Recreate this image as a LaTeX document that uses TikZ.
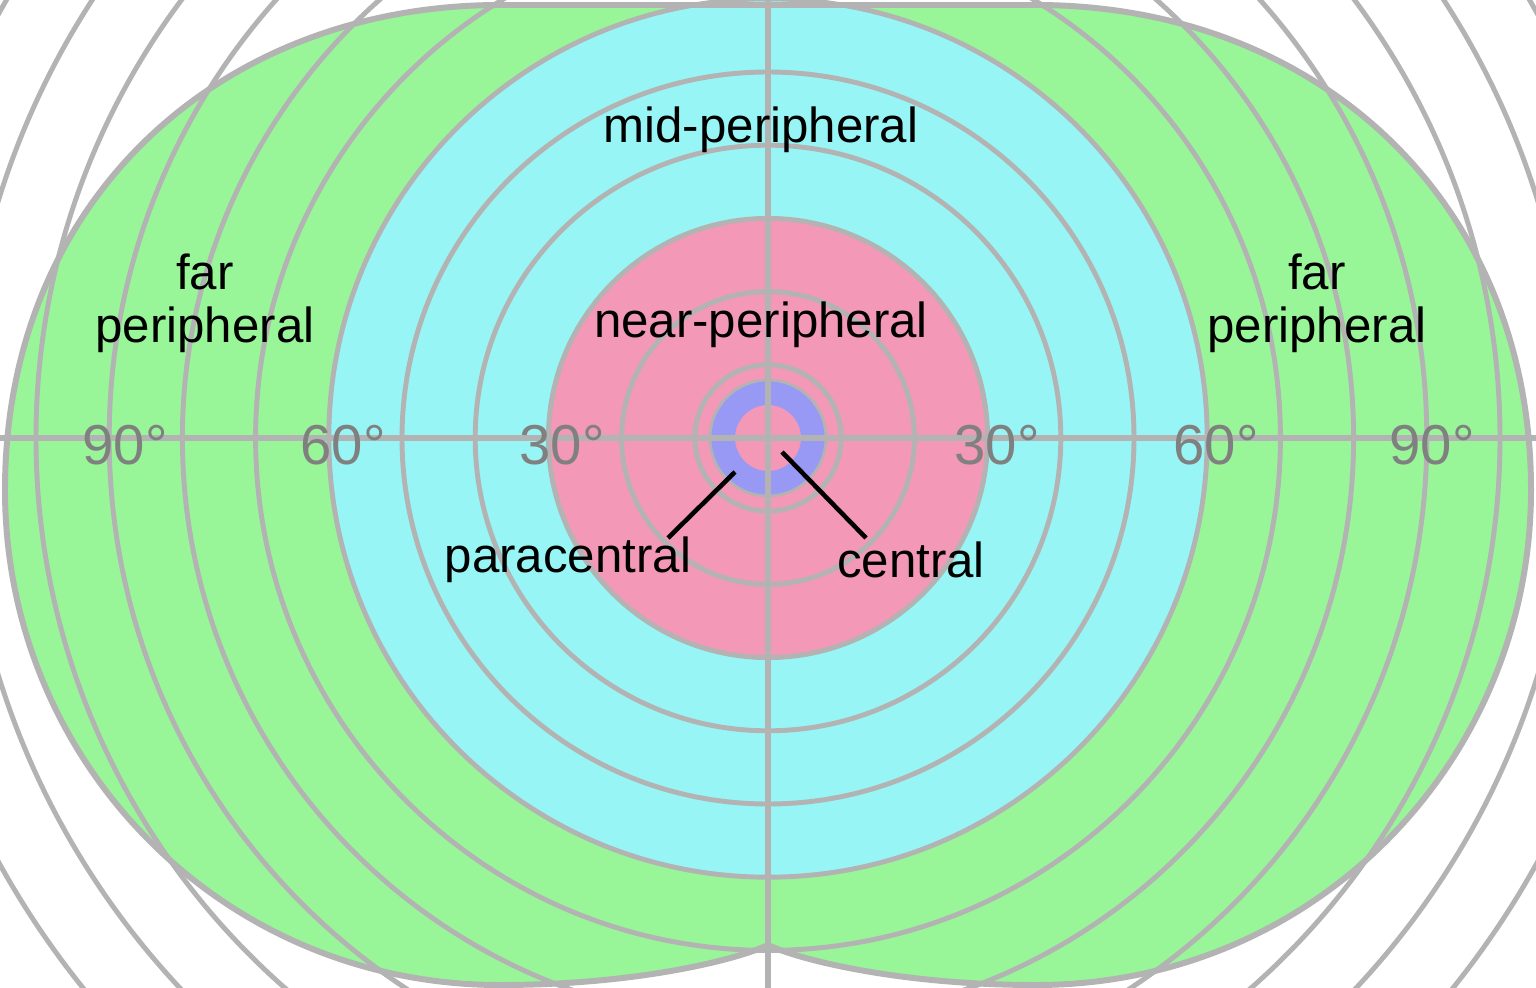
\documentclass[tikz,border=0pt]{standalone}
\usepackage{fontspec}
\setmainfont{Liberation Sans}
\definecolor{gr}{HTML}{98F698}
\definecolor{cy}{HTML}{98F5F5}
\definecolor{pk}{HTML}{F398B7}
\definecolor{bl}{HTML}{9898F5}
\definecolor{gy}{HTML}{B3B3B3}
\definecolor{lab}{HTML}{808080}
\begin{document}
\begin{tikzpicture}[x=0.01cm,y=-0.01cm,
  gline/.style={draw=gy,line width=1.4pt},
  txt/.style={font=\fontsize{14}{15}\selectfont,align=center,inner sep=0pt,text=black},
  deg/.style={font=\fontsize{16}{18}\selectfont,inner sep=0pt,text=lab}]
\useasboundingbox (0,0) rectangle (1536,988);
\clip (0,0) rectangle (1536,988);
\fill[white] (0,0) rectangle (1536,988);
\def\greenpath{(768,945) .. controls (736,960) and (636,985) .. (500,985)
  .. controls (220,985) and (5,760) .. (5,490)
  .. controls (5,200) and (220,5) .. (500,5) -- (1036,5)
  .. controls (1316,5) and (1531,200) .. (1531,490)
  .. controls (1531,760) and (1316,985) .. (1036,985)
  .. controls (900,985) and (800,960) .. (768,945) -- cycle}
\fill[gr] \greenpath;
\coordinate (c) at (768,438);
\fill[cy] (c) circle[radius=439];
\fill[pk] (c) circle[radius=220];
\fill[bl,even odd rule] (c) circle[radius=58] (c) circle[radius=33];
\foreach \k in {1,...,16} \draw[gline] (c) circle[radius={73.2*\k}];
\draw[gy,line width=0.8pt] (c) circle[radius=58];
\draw[gline,line width=1.7pt] \greenpath;
\draw[gline,line width=1.8pt] (0,438) -- (1536,438);
\draw[gline,line width=1.8pt] (768,0) -- (768,988);
\node[deg] (d1) at (125,445) {90°};
\node[deg] (d2) at (343,445) {60°};
\node[deg] (d3) at (562,445) {30°};
\node[deg] (d4) at (997,445) {30°};
\node[deg] (d5) at (1216,445) {60°};
\node[deg] (d6) at (1432,445) {90°};
\node[txt] (mid) at (761,130) {mid-peripheral};
\node[txt] (farl) at (205,303) {far\\peripheral};
\node[txt] (farr) at (1317,303) {far\\peripheral};
\node[txt] (near) at (761,325) {near-peripheral};
\node[txt] (para) at (568,560) {paracentral};
\node[txt] (cen) at (911,560) {central};
\coordinate (pa) at (735,472);
\coordinate (ce) at (782,452);
\draw[black,line width=1.3pt] (pa) -- (668,538);
\draw[black,line width=1.3pt] (ce) -- (866,538);
\end{tikzpicture}
\end{document}
